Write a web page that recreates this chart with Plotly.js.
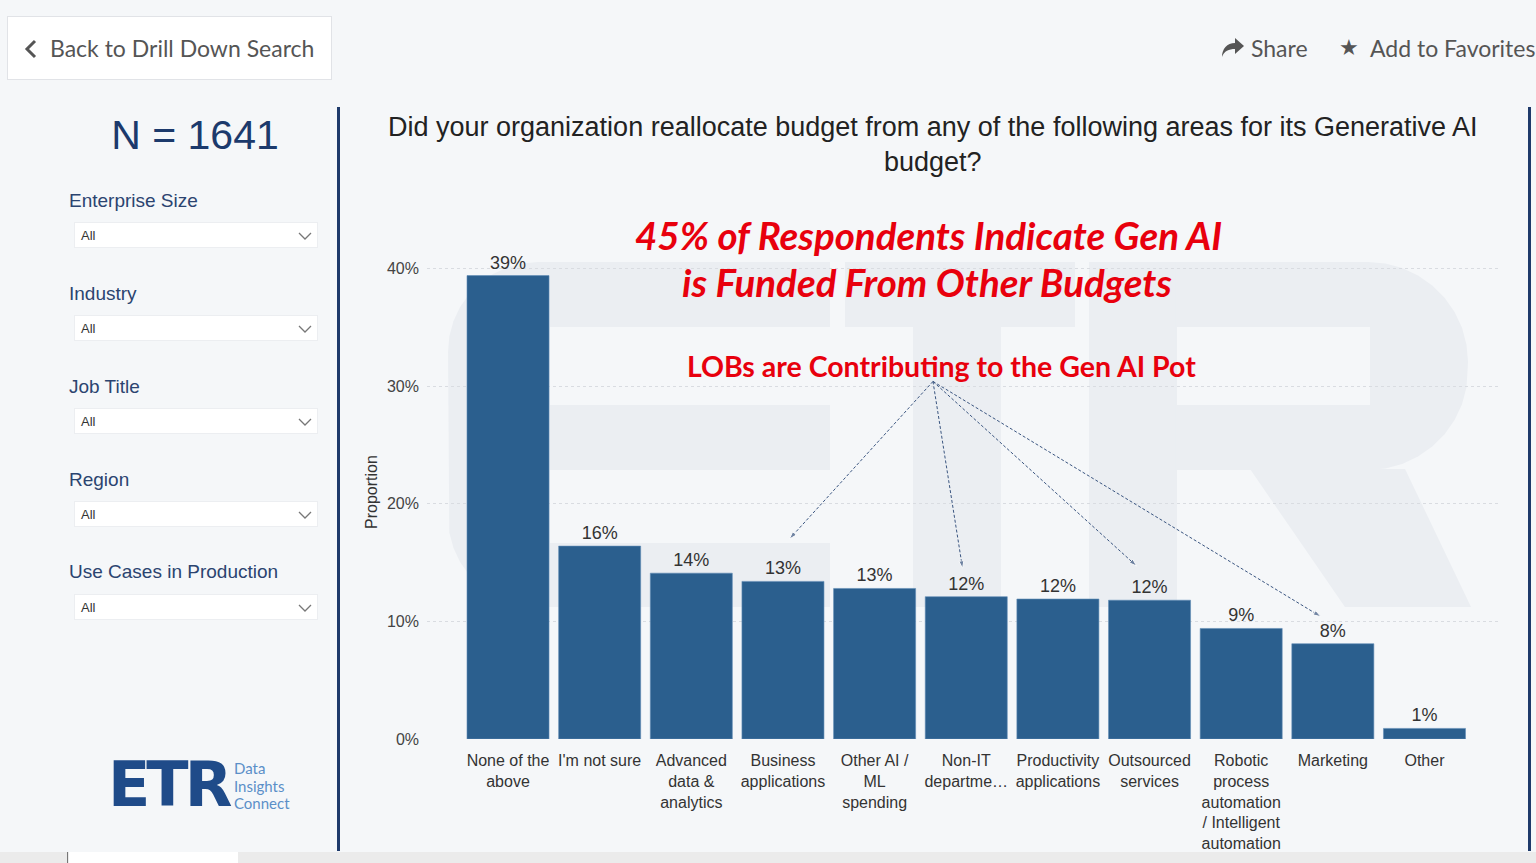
<!DOCTYPE html>
<html>
<head>
<meta charset="utf-8">
<script src="https://cdn.plot.ly/plotly-3.0.1.min.js"></script>
<style>
  html, body { margin: 0; padding: 0; }
  body { width: 1536px; height: 863px; background: #f5f7f9; position: relative; overflow: hidden; font-family: "Liberation Sans", Arial, sans-serif; }
  #chart { position: absolute; left: 0; top: 0; width: 1536px; height: 863px; z-index: 0; }
  .abs { position: absolute; z-index: 2; }
  .btn { left: 7px; top: 16px; width: 325px; height: 64px; background: #fff; border: 1px solid #e1e3e7; box-sizing: border-box; }
  .btn span { position: absolute; left: 42px; top: 17px; font-family: Lato, sans-serif; font-size: 23px; color: #555; line-height: 28px; }
  .tool { font-family: Lato, sans-serif; font-size: 23px; color: #555; line-height: 28px; top: 34px; }
  .ncount { left: 0; width: 390px; text-align: center; top: 110px; font-size: 41px; color: #1c3a6c; line-height: 50px; }
  .flabel { left: 69px; font-size: 19px; color: #2b4470; line-height: 22px; }
  .dd { left: 74px; width: 244px; height: 26px; background: #fff; border: 1px solid #eceef1; box-sizing: border-box; }
  .dd span { position: absolute; left: 6px; top: 5px; font-size: 13px; color: #333; line-height: 15px; }
  .dd svg { position: absolute; left: 223px; top: 9px; }
  .vline { width: 3px; background: #1e3a6b; top: 107px; height: 744px; }
  .logo { left: 108px; top: 752px; font-family: "DejaVu Sans", sans-serif; font-weight: bold; font-size: 62px; color: #1f4b89; letter-spacing: -4px; line-height: 66px; }
  .tag { left: 234px; font-family: Lato, sans-serif; font-size: 15px; color: #5b8fc8; line-height: 17px; }
  .strip { left: 0; top: 852px; width: 1536px; height: 11px; background: #ebebeb; }
</style>
</head>
<body>
<div id="chart"></div>

<div class="abs btn">
  <svg class="abs" style="left:16px;top:22px" width="14" height="20"><polyline points="11,2 3,10 11,18" fill="none" stroke="#555" stroke-width="3"/></svg>
  <span>Back to Drill Down Search</span>
</div>

<svg class="abs" style="left:1221px;top:38px" width="24" height="20" viewBox="0 0 24 20">
  <path d="M14 0 L23 8 L14 16 L14 11 C8 11 3 13 1 19 C1 11 6 5 14 5 Z" fill="#555"/>
</svg>
<div class="abs tool" style="left:1251px">Share</div>
<div class="abs tool" style="left:1339px;font-family:'DejaVu Sans',sans-serif;font-size:22px">★</div>
<div class="abs tool" style="left:1370px">Add to Favorites</div>

<div class="abs ncount">N = 1641</div>

<div class="abs flabel" style="top:190px">Enterprise Size</div>
<div class="abs dd" style="top:222px"><span>All</span><svg width="14" height="9"><polyline points="1,1 7,7 13,1" fill="none" stroke="#777" stroke-width="1.3"/></svg></div>
<div class="abs flabel" style="top:283px">Industry</div>
<div class="abs dd" style="top:315px"><span>All</span><svg width="14" height="9"><polyline points="1,1 7,7 13,1" fill="none" stroke="#777" stroke-width="1.3"/></svg></div>
<div class="abs flabel" style="top:376px">Job Title</div>
<div class="abs dd" style="top:408px"><span>All</span><svg width="14" height="9"><polyline points="1,1 7,7 13,1" fill="none" stroke="#777" stroke-width="1.3"/></svg></div>
<div class="abs flabel" style="top:469px">Region</div>
<div class="abs dd" style="top:501px"><span>All</span><svg width="14" height="9"><polyline points="1,1 7,7 13,1" fill="none" stroke="#777" stroke-width="1.3"/></svg></div>
<div class="abs flabel" style="top:561px">Use Cases in Production</div>
<div class="abs dd" style="top:594px"><span>All</span><svg width="14" height="9"><polyline points="1,1 7,7 13,1" fill="none" stroke="#777" stroke-width="1.3"/></svg></div>

<div class="abs vline" style="left:337px"></div>
<div class="abs vline" style="left:1528px"></div>

<div class="abs logo">ETR</div>
<div class="abs tag" style="top:760px">Data</div>
<div class="abs tag" style="top:778px">Insights</div>
<div class="abs tag" style="top:795px">Connect</div>

<div class="abs strip"></div>
<div class="abs" style="left:69px;top:852px;width:169px;height:11px;background:#fff"></div>
<div class="abs" style="left:67px;top:852px;width:1px;height:11px;background:#777"></div>

<script>
// Survey answers and their share of respondents
const categories = [
  "None of the above", "I'm not sure", "Advanced data & analytics",
  "Business applications", "Other AI / ML spending", "Non-IT departments",
  "Productivity applications", "Outsourced services",
  "Robotic process automation / Intelligent automation", "Marketing", "Other"
];
const tickLabels = [
  "None of the<br>above", "I'm not sure", "Advanced<br>data &amp;<br>analytics",
  "Business<br>applications", "Other AI /<br>ML<br>spending", "Non-IT<br>departme…",
  "Productivity<br>applications", "Outsourced<br>services",
  "Robotic<br>process<br>automation<br>/ Intelligent<br>automation", "Marketing", "Other"
];
const proportions = [0.394, 0.164, 0.141, 0.134, 0.128, 0.121, 0.119, 0.118, 0.094, 0.081, 0.009];
const yTicks = [0, 0.1, 0.2, 0.3, 0.4];
// Line-of-business budgets singled out by the callout
const lobTargets = ["Business applications", "Non-IT departments", "Outsourced services", "Marketing"];

// Plot area geometry (page pixels)
const PL = 427, PR = 1500, PT = 245, PB = 739;
const W = 1536, H = 863;
const px2x = p => (p - PL) / (PR - PL);
const px2y = p => (PB - p) / (PB - PT);

const X_RANGE = [-0.884, 10.824];
const Y_RANGE = [0, 0.42];

const barTrace = {
  type: 'bar',
  x: categories,
  y: proportions,
  marker: { color: '#2b5f8e', line: { color: '#5f8cb6', width: 0.6 } },
  text: proportions.map(v => Math.round(v * 100) + '%'),
  textposition: 'outside',
  cliponaxis: false,
  textfont: { family: 'Liberation Sans, Arial, sans-serif', size: 18, color: '#333' },
  hoverinfo: 'skip'
};

// Callout arrows from the LOB caption down to the bars it names
const calloutOrigin = { x: 4.637, y: 0.304 };
const arrowOffsets = {
  "Business applications": [0.07, 0.036],
  "Non-IT departments": [-0.04, 0.024],
  "Outsourced services": [-0.14, 0.029],
  "Marketing": [-0.13, 0.023]
};
const arrowTraces = lobTargets.map(name => {
  const i = categories.indexOf(name);
  const [dx, dy] = arrowOffsets[name];
  return {
    type: 'scatter', mode: 'lines+markers',
    xaxis: 'x2', yaxis: 'y',
    x: [calloutOrigin.x, i + dx],
    y: [calloutOrigin.y, proportions[i] + dy],
    line: { color: '#3a5580', width: 1, dash: '3px,2px' },
    marker: { symbol: 'arrow', angleref: 'previous', size: [0, 8], color: '#3a5580' },
    hoverinfo: 'skip', showlegend: false, cliponaxis: false
  };
});

// Faint brand watermark behind the bars
const wm = '#ebeef2';
function rectPx(x0, y0, x1, y1) {
  return { type: 'rect', xref: 'paper', yref: 'paper', layer: 'below',
    x0: px2x(x0), x1: px2x(x1), y0: px2y(y1), y1: px2y(y0),
    fillcolor: wm, line: { width: 0 } };
}
function polyPx(pts, color) {
  const d = 'M' + pts.map(p => px2x(p[0]).toFixed(4) + ',' + px2y(p[1]).toFixed(4)).join(' L');
  return { type: 'path', xref: 'paper', yref: 'paper', layer: 'below', path: d + ' Z', fillcolor: color || wm, line: { width: 0 } };
}
function roundedLeftPoly(x0, y0, x1, y1, r) {
  const pts = [[x1, y0], [x0 + r, y0]];
  for (let a = 100; a <= 180; a += 10) {
    const t = a * Math.PI / 180;
    pts.push([x0 + r + r * Math.cos(t), y0 + r - r * Math.sin(t)]);
  }
  for (let a = 190; a <= 270; a += 10) {
    const t = a * Math.PI / 180;
    pts.push([x0 + r + r * Math.cos(t), y1 - r - r * Math.sin(t)]);
  }
  pts.push([x1, y1]);
  return polyPx(pts);
}
function rBowlPoly(x0, y0, x1, y1, r) {
  // right-hand rounded bowl of the R
  const pts = [[x0, y0], [x1 - r, y0]];
  for (let a = 80; a >= -90; a -= 10) {
    const t = a * Math.PI / 180;
    const cy = a >= 0 ? y0 + r : y1 - r;
    pts.push([x1 - r + r * Math.cos(t), cy - r * Math.sin(t)]);
  }
  pts.push([x0, y1]);
  return polyPx(pts);
}

const shapes = [
  roundedLeftPoly(448, 262, 550, 607, 90),
  rectPx(549, 262, 830, 327),
  rectPx(549, 405, 830, 470),
  rectPx(549, 543, 830, 607),
  rectPx(845, 262, 1075, 327),
  rectPx(913, 326, 1001, 607),
  rectPx(1089, 262, 1177, 607),
  rBowlPoly(1176, 262, 1468, 470, 100),
  polyPx([[1250, 469], [1405, 469], [1471, 607], [1345, 607]]),
  // the counter of the R bowl shows the page colour
  rectPx(1177, 327, 1370, 405)
];
shapes[shapes.length - 1].fillcolor = '#f5f7f9';

const red = '#e8000d';
const annotations = [
  { xref: 'paper', yref: 'paper', x: px2x(933), y: px2y(144), xanchor: 'center', yanchor: 'middle',
    text: 'Did your organization reallocate budget from any of the following areas for its Generative AI<br>budget?',
    showarrow: false, align: 'center',
    font: { family: 'Liberation Sans, Arial, sans-serif', size: 27, color: '#222' } },
  { xref: 'paper', yref: 'paper', x: px2x(928), y: px2y(235), xanchor: 'center', yanchor: 'middle',
    text: '<b><i>45% of Respondents Indicate Gen AI</i></b>', showarrow: false,
    font: { family: 'Lato, sans-serif', size: 38.5, color: red } },
  { xref: 'paper', yref: 'paper', x: px2x(927), y: px2y(282), xanchor: 'center', yanchor: 'middle',
    text: '<b><i>is Funded From Other Budgets</i></b>', showarrow: false,
    font: { family: 'Lato, sans-serif', size: 38.5, color: red } },
  { xref: 'paper', yref: 'paper', x: px2x(941), y: px2y(366), xanchor: 'center', yanchor: 'middle',
    text: '<b>LOBs are Contributing to the Gen AI Pot</b>', showarrow: false,
    font: { family: 'Lato, sans-serif', size: 28.5, color: red } },
  { xref: 'paper', yref: 'paper', x: px2x(371), y: px2y(492), xanchor: 'center', yanchor: 'middle',
    text: 'Proportion', textangle: -90, showarrow: false,
    font: { family: 'Liberation Sans, Arial, sans-serif', size: 16, color: '#333' } }
];

const layout = {
  width: W, height: H,
  margin: { l: PL, r: W - PR, t: PT, b: H - PB, pad: 0 },
  paper_bgcolor: 'rgba(0,0,0,0)',
  plot_bgcolor: 'rgba(0,0,0,0)',
  showlegend: false,
  bargap: 0.105,
  xaxis: {
    type: 'category', range: X_RANGE,
    tickvals: categories, ticktext: tickLabels,
    showgrid: false, zeroline: false, showline: false, ticks: '',
    ticklabelstandoff: 10,
    tickfont: { family: 'Liberation Sans, Arial, sans-serif', size: 16, color: '#333' },
    fixedrange: true
  },
  xaxis2: { overlaying: 'x', range: X_RANGE, visible: false, fixedrange: true },
  yaxis: {
    range: Y_RANGE, tickvals: yTicks, tickformat: '.0%',
    showgrid: true, gridcolor: '#d9dce1', griddash: 'dot', gridwidth: 1,
    zeroline: false, showline: false, ticks: '',
    ticklabelstandoff: 7,
    tickfont: { family: 'Liberation Sans, Arial, sans-serif', size: 16, color: '#444' },
    fixedrange: true
  },
  shapes: shapes,
  annotations: annotations
};

Plotly.newPlot('chart', [barTrace].concat(arrowTraces), layout, { displayModeBar: false, staticPlot: true });
</script>
</body>
</html>
